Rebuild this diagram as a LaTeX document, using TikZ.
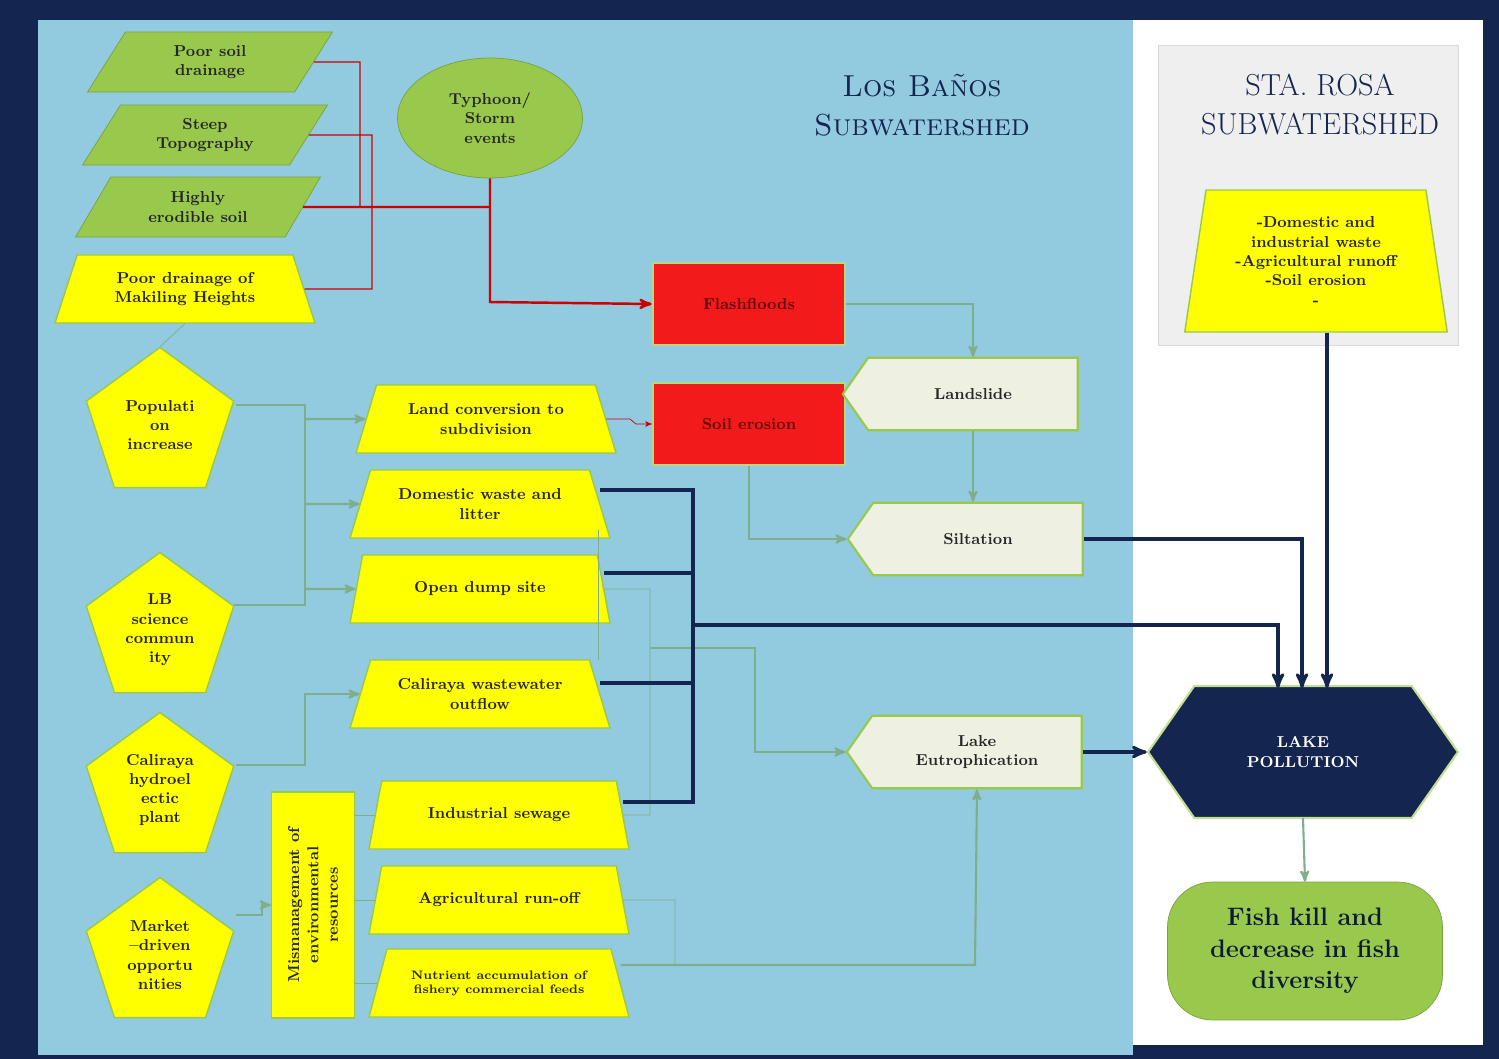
\documentclass[tikz,border=0pt]{standalone}
\usepackage{tikz}
\usetikzlibrary{arrows,shapes.geometric,shapes.symbols,calc}
\definecolor{navy}{HTML}{14254F}
\definecolor{panel}{HTML}{92CADF}
\definecolor{leaf}{HTML}{99C94C}
\definecolor{sun}{HTML}{FFFF00}
\definecolor{pale}{HTML}{EEF0E2}
\definecolor{flow}{HTML}{7FAF8A}
\definecolor{fire}{HTML}{F21A1A}
\tikzset{
  txt/.style={font=\bfseries\small, align=center, text=black!85},
  para/.style={txt, trapezium, trapezium left angle=50, trapezium right angle=130, trapezium stretches body, fill=leaf, draw=leaf!80!black, minimum width=4.9cm, minimum height=1.2cm},
  trap/.style={txt, trapezium, trapezium left angle=64, trapezium right angle=64, trapezium stretches body, fill=sun, draw=leaf, thick, minimum width=5.2cm, minimum height=1.36cm},
  penta/.style={txt, regular polygon, regular polygon sides=5, fill=sun, draw=leaf, thick, minimum size=3.1cm, inner sep=0pt},
  tag/.style={txt, signal, signal to=west, signal pointer angle=110, fill=pale, draw=leaf, very thick, minimum width=4.7cm, minimum height=1.45cm},
  hot/.style={txt, fill=fire, draw=leaf!70, very thick, minimum width=3.85cm, minimum height=1.64cm, text=black!60!fire},
  red line/.style={draw=red!80!black, thick},
  green line/.style={draw=flow, very thick},
  thin line/.style={draw=flow},
  navy line/.style={draw=navy, line width=1.8pt},
}
\begin{document}
\begin{tikzpicture}[x=0.02cm,y=-0.02cm,>=stealth']
  \fill[navy] (0,0) rectangle (1499,1059);
  \fill[panel] (38,20) rectangle (1133,1055);
  \fill[white] (1133,20) rectangle (1483,1045);
  \fill[blue!5!gray!12, draw=gray!30] (1158,45) rectangle (1458,345);

  % titles
  \node[font=\LARGE\scshape, text=navy] (lb) at (922,108) {\begin{tabular}{c}Los Baños\\Subwatershed\end{tabular}};
  \node[font=\LARGE, text=navy] (sr) at (1320,107) {\begin{tabular}{c}STA. ROSA\\SUBWATERSHED\end{tabular}};

  % causes
  \node[para] (soil) at (210,62) {Poor soil\\drainage};
  \node[para] (steep) at (205,135) {Steep\\Topography};
  \node[para] (erod) at (198,207) {Highly\\erodible soil};
  \node[trap] (mak) at (185,289) {Poor drainage of\\Makiling Heights};
  \node[txt, ellipse, fill=leaf, draw=leaf!80!black, minimum width=3.7cm, minimum height=2.4cm] (typh) at (490,118) {Typhoon/\\Storm\\events};

  \node[hot] (flash) at (749,304) {Flashfloods};
  \node[hot] (eros) at (749,424) {Soil erosion};
  \node[tag] (slide) at (973,394) {Landslide};
  \node[tag] (silt) at (978,539) {Siltation};
  \node[tag] (eutro) at (977,752) {Lake\\Eutrophication};

  \node[penta] (pop) at (160,425) {Populati\\on\\increase};
  \node[penta] (lbsc) at (160,630) {LB\\science\\commun\\ity};
  \node[penta] (calp) at (160,790) {Caliraya\\hydroel\\ectic\\plant};
  \node[penta] (mkt) at (160,955) {Market\\--driven\\opportu\\nities};

  \node[trap] (land) at (486,419) {Land conversion to\\subdivision};
  \node[trap] (dom) at (480,504) {Domestic waste and\\litter};
  \node[trap] (dump) at (480,589) {Open dump site};
  \node[trap] (calw) at (480,694) {Caliraya wastewater\\outflow};
  \node[trap] (ind) at (499,815) {Industrial sewage};
  \node[trap] (agri) at (499,900) {Agricultural run-off};
  \node[trap, font=\bfseries\scriptsize] (nutr) at (499,983) {Nutrient accumulation of\\fishery commercial feeds};
  \node[txt, fill=sun, draw=leaf, thick, minimum width=1.66cm, minimum height=4.52cm] (mis) at (313,905) {};
  \node[txt, rotate=90] (mistxt) at (mis) {Mismanagement of\\environmental\\resources};

  \node[trap, minimum width=5.25cm, minimum height=2.84cm, trapezium left angle=78, trapezium right angle=78] (rosa) at (1316,261) {-Domestic and\\industrial waste\\-Agricultural runoff\\-Soil erosion\\-};
  \node[txt, signal, signal to=west and east, signal pointer angle=110, fill=navy, draw=leaf!60, very thick, minimum width=6.2cm, minimum height=2.64cm, text=white] (poll) at (1303,752) {LAKE\\POLLUTION};
  \node[txt, font=\bfseries\Large, rounded corners=0.9cm, fill=leaf, draw=leaf!80!black, minimum width=5.5cm, minimum height=2.76cm, text=navy!70!black] (fish) at (1305,951) {Fish kill and\\decrease in fish\\diversity};

  % red links
  \coordinate (r1) at (360,62);
  \coordinate (r2) at (372,135);
  \path[red line] (soil.east) -- (r1) -- (r1 |- erod.east);
  \path[red line] (steep.east) -- (r2) -- (r2 |- mak.east) -- (mak.east);
  \coordinate (rj) at (490,207);
  \path[red line, line width=1.4pt] (erod.east) -- (rj);
  \path[red line, line width=1.4pt, ->] (typh.south) -- (rj) -- (490,302) -- (flash.west);
  \path[red line, thin, ->] (land.east) -- (630,419) -- (636,424) -- (eros.west);

  % green links
  \path[green line, ->] (flash.east) -| (slide.north);
  \path[green line, ->] (slide.south) -- (silt.north -| slide.south);
  \path[green line, ->] (eros.south) |- (silt.west);
  \coordinate (g1) at (305,405);
  \path[green line] (236,405) -- (g1) -- (305,605) -- (234,605);
  \path[green line, ->] (305,419) -- (land.west);
  \path[green line, ->] (305,504) -- (dom.west);
  \path[green line, ->] (305,589) -- (dump.west);
  \path[green line, ->] (236,765) -- (305,765) |- (calw.west);
  \path[green line, ->] (236,915) -- (262,915) |- (mis.west);
  \path[green line, ->] (1303,818) -- (fish.north);
  \path[thin line] (pop.north) -- (mak.south);
  \path[thin line] (mis.east |- ind.west) -- (ind.west);
  \path[thin line] (mis.east |- agri.west) -- (agri.west);
  \path[thin line] (mis.east |- nutr.west) -- (nutr.west);
  \path[thin line] (598,530) -- (598,660);
  \path[thin line] (dump.east) -- (650,589) -- (650,815) -- (ind.east);
  \path[green line, ->] (650,648) -- (755,648) |- (eutro.west);
  \path[thin line] (agri.east) -- (675,900) -- (675,965);
  \path[green line, ->] (nutr.east |- 0,965) -- (975,965) -- (eutro.south);

  % navy links
  \coordinate (n1) at (693,490);
  \path[navy line] (dom.east |- n1) -- (n1) -- (693,802) -- (ind.east |- 0,802);
  \path[navy line] (dump.east |- 0,573) -- (693,573);
  \path[navy line] (calw.east |- 0,683) -- (693,683);
  \path[navy line, ->] (693,625) -- (1278,625) -- (1278,688);
  \path[navy line, ->] (silt.east) -- (1302,539) -- (1302,688);
  \path[navy line, ->] (rosa.south -| 1327,0) -- (1327,688);
  \path[navy line, ->] (eutro.east) -- (poll.west);
\end{tikzpicture}
\end{document}
